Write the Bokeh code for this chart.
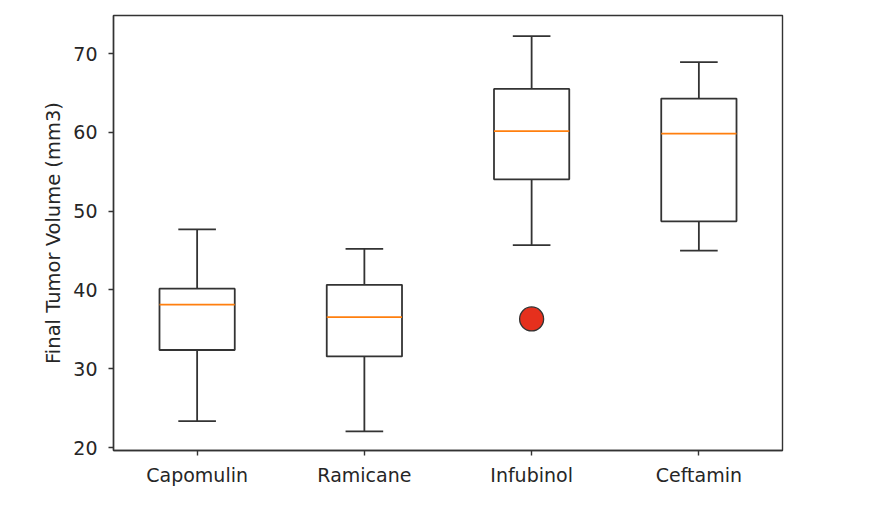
from bokeh.plotting import figure
from bokeh.models import FixedTicker, Range1d
from bokeh.embed import file_html
from bokeh.resources import INLINE

drugs = ["Capomulin", "Ramicane", "Infubinol", "Ceftamin"]
whisker_low = [23.34, 22.05, 45.70, 45.00]
q1 = [32.38, 31.56, 54.05, 48.72]
median = [38.13, 36.56, 60.17, 59.85]
q3 = [40.16, 40.66, 65.53, 64.30]
whisker_high = [47.69, 45.22, 72.23, 68.92]
outlier_drug = [3]
outlier_value = [36.32]
y_ticks = [20, 30, 40, 50, 60, 70]

pos = [i + 1 for i in range(len(drugs))]
half_box = 0.225
half_cap = 0.1125

p = figure(width=808, height=500, output_backend="svg", toolbar_location=None,
           x_range=Range1d(0.5, 4.5), y_range=Range1d(19.62, 74.85),
           min_border_left=113, min_border_right=26, min_border_top=15, min_border_bottom=50)
p.grid.visible = False
p.outline_line_color = "#333333"
p.outline_line_width = 1.4
p.background_fill_color = "white"
p.border_fill_color = "white"

lc = "#333333"
lw = 1.8
# whiskers
p.segment(x0=pos, y0=whisker_low, x1=pos, y1=q1, line_color=lc, line_width=lw)
p.segment(x0=pos, y0=q3, x1=pos, y1=whisker_high, line_color=lc, line_width=lw)
# caps
p.segment(x0=[x - half_cap for x in pos], y0=whisker_low, x1=[x + half_cap for x in pos], y1=whisker_low,
          line_color=lc, line_width=lw)
p.segment(x0=[x - half_cap for x in pos], y0=whisker_high, x1=[x + half_cap for x in pos], y1=whisker_high,
          line_color=lc, line_width=lw)
# boxes
p.quad(left=[x - half_box for x in pos], right=[x + half_box for x in pos], bottom=q1, top=q3,
       fill_color=None, line_color=lc, line_width=lw)
# medians
p.segment(x0=[x - half_box for x in pos], y0=median, x1=[x + half_box for x in pos], y1=median,
          line_color="#ff7f0e", line_width=lw)
# outliers
p.scatter(x=outlier_drug, y=outlier_value, size=24, fill_color="#e5301d", line_color="#333333", line_width=1.3)

p.xaxis.ticker = FixedTicker(ticks=pos)
p.xaxis.major_label_overrides = {x: d for x, d in zip(pos, drugs)}
p.yaxis.ticker = FixedTicker(ticks=y_ticks)
p.yaxis.axis_label = "Final Tumor Volume (mm3)"

for ax in (p.xaxis, p.yaxis):
    ax.axis_line_color = lc
    ax.axis_line_width = 1.4
    ax.major_tick_line_color = lc
    ax.major_tick_line_width = 1.4
    ax.major_tick_out = 5
    ax.major_tick_in = 0
    ax.minor_tick_line_color = None
    ax.major_label_text_font = "DejaVu Sans"
    ax.major_label_text_font_size = "19px"
    ax.major_label_text_color = "#262626"
    ax.axis_label_text_font = "DejaVu Sans"
    ax.axis_label_text_font_size = "19.5px"
    ax.axis_label_text_font_style = "normal"
    ax.axis_label_text_color = "#262626"
p.xaxis.major_label_standoff = 8
p.yaxis.major_label_standoff = 11
p.yaxis.axis_label_standoff = 5

open("out.html", "w").write(file_html(p, INLINE))
